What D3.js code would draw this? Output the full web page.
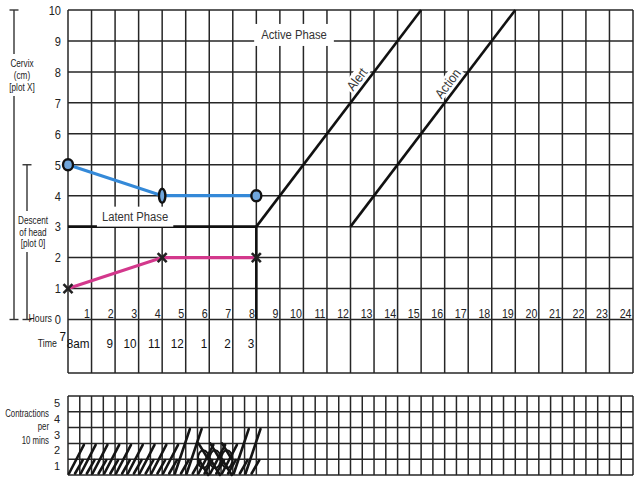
<!DOCTYPE html>
<html><head><meta charset="utf-8">
<script src="https://cdn.jsdelivr.net/npm/d3@7"></script>
<style>body{margin:0;background:#fff}svg{display:block}</style></head>
<body>
<script>
// ---- data ----
const hourTicks = d3.range(0, 25);              // hours 0..24
const cervixTicks = d3.range(0, 11);            // 0..10 cm
const hourLabels = d3.range(1, 25);             // labels 1..24
const timeLabels = ["7", "8am", "9", "10", "11", "12", "1", "2", "3"];
const obsHours = [0, 4, 8];
const cervixCm = [5, 4, 4];
const descentHead = [1, 2, 2];
const alertLine = [[8, 3], [15, 10]];
const actionLine = [[12, 3], [19, 10]];
const contractionTicks = [1, 2, 3, 4, 5];
const contractionsPer10 = [2, 2, 2, 2, 2, 2, 2, 2, 2, 3, 3, 2, 2, 2, 3, 3];
const contractionKind = ["m","m","m","m","m","m","m","m","m","m","m","s","s","s","m","m"];

// ---- layout ----
const W = 638, H = 479;
const SANS = "'Liberation Sans',Arial,sans-serif";
const INK = "#262626";
const BLUE = "#3489d8", PINK = "#d3388c";

const x = d3.scaleLinear().domain([0, 24]).range([68, 633]);
const y = d3.scaleLinear().domain([0, 10]).range([319.5, 10]);
const timeBottom = 373;
const yc = d3.scaleLinear().domain([0, 5]).range([475, 396]);
const halfCols = d3.range(0, 49).map(i => i / 2);

const svg = d3.select("body").append("svg").attr("width", W).attr("height", H);
svg.append("rect").attr("width", W).attr("height", H).attr("fill", "#fff");

// narrow the glyphs of a text selection horizontally
function condense(sel, k) {
  sel.each(function () {
    const L = this.getComputedTextLength();
    if (L > 0) d3.select(this).attr("textLength", L * k).attr("lengthAdjust", "spacingAndGlyphs");
  });
}

// ---- main grid ----
const g = svg.append("g").attr("stroke", INK).attr("stroke-width", 1.5).attr("fill", "none");
g.selectAll("line.v").data(hourTicks).join("line").attr("class", "v")
  .attr("x1", d => x(d)).attr("x2", d => x(d)).attr("y1", y(10)).attr("y2", timeBottom);
g.selectAll("line.h").data(cervixTicks).join("line").attr("class", "h")
  .attr("x1", x(0)).attr("x2", x(24)).attr("y1", d => y(d)).attr("y2", d => y(d));
g.append("line").attr("x1", x(0)).attr("x2", x(24)).attr("y1", timeBottom).attr("y2", timeBottom);

// latent phase box (thick)
svg.append("path").attr("fill", "none").attr("stroke", "#111").attr("stroke-width", 2.6)
  .attr("d", `M${x(0)},${y(3)}H${x(8)}V${y(0)}`);

// alert / action lines
const lineGen = d3.line().x(d => x(d[0])).y(d => y(d[1]));
svg.append("path").datum(alertLine).attr("d", lineGen).attr("stroke", "#111").attr("stroke-width", 2.6).attr("fill", "none");
svg.append("path").datum(actionLine).attr("d", lineGen).attr("stroke", "#111").attr("stroke-width", 2.6).attr("fill", "none");

// phase labels with white backing
function boxedLabel(cx, baseline, text, size, padX, padY) {
  const t = svg.append("text").attr("x", cx).attr("y", baseline).attr("text-anchor", "middle")
    .attr("font-family", SANS).attr("font-size", size).attr("fill", "#333").text(text);
  condense(t, 0.9);
  const bb = t.node().getBBox();
  svg.insert("rect", () => t.node()).attr("x", bb.x - padX).attr("y", bb.y - padY)
    .attr("width", bb.width + 2 * padX).attr("height", bb.height + 2 * padY).attr("fill", "#fff");
}
boxedLabel(x(9.6), y(9) - 2, "Active Phase", 12.5, 7, 4);
boxedLabel(x(2.85), y(3) - 6, "Latent Phase", 12.5, 5, 3);

function slopedLabel(seg, frac, text) {
  const px = x(seg[0][0] + (seg[1][0] - seg[0][0]) * frac);
  const py = y(seg[0][1] + (seg[1][1] - seg[0][1]) * frac);
  const ang = Math.atan2(y(seg[1][1]) - y(seg[0][1]), x(seg[1][0]) - x(seg[0][0])) * 180 / Math.PI;
  const gg = svg.append("g").attr("transform", `translate(${px},${py}) rotate(${ang})`);
  const t = gg.append("text").attr("x", 0).attr("y", -4.5).attr("text-anchor", "middle")
    .attr("font-family", SANS).attr("font-size", 13.5).attr("fill", "#333").text(text);
  condense(t, 0.88);
  const bb = t.node().getBBox();
  gg.insert("rect", () => t.node()).attr("x", bb.x - 2).attr("y", bb.y).attr("width", bb.width + 4)
    .attr("height", bb.height - 1.5).attr("fill", "#fff");
}
slopedLabel(alertLine, 0.655, "Alert");
slopedLabel(actionLine, 0.635, "Action");

// ---- axis labels ----
const yAxis = svg.append("g").attr("transform", `translate(${x(0) - 7},0)`)
  .call(d3.axisLeft(y).tickValues(cervixTicks).tickSize(0).tickPadding(0).tickFormat(d3.format("d")));
yAxis.select(".domain").remove();
yAxis.selectAll("text").attr("font-family", SANS).attr("font-size", 13.5).attr("fill", "#222");
condense(yAxis.selectAll("text"), 0.82);

const hoursT = svg.append("text").attr("x", 52).attr("y", y(0) + 2).attr("text-anchor", "end")
  .attr("font-family", SANS).attr("font-size", 11).attr("fill", "#222").text("Hours");
condense(hoursT, 0.8);

const hl = svg.append("g").selectAll("text").data(hourLabels).join("text")
  .attr("x", d => x(d) - 1.5).attr("y", y(0) - 1.5).attr("text-anchor", "end")
  .attr("font-family", SANS).attr("font-size", 13).attr("fill", "#222").text(d => d);
condense(hl, 0.82);

const timeT = svg.append("text").attr("x", 57).attr("y", 347).attr("text-anchor", "end")
  .attr("font-family", SANS).attr("font-size", 11).attr("fill", "#222").text("Time");
condense(timeT, 0.8);
const tl = svg.append("g").selectAll("text").data(timeLabels).join("text")
  .attr("x", (d, i) => x(i) - 2).attr("y", (d, i) => i === 0 ? 341 : 348).attr("text-anchor", "end")
  .attr("font-family", SANS).attr("font-size", 13).attr("fill", "#111").text(d => d);
condense(tl, 0.9);

// left brackets
const br = svg.append("g").attr("stroke", "#333").attr("stroke-width", 1.4);
br.append("line").attr("x1", 14).attr("x2", 14).attr("y1", y(10)).attr("y2", y(0));
br.append("line").attr("x1", 9.5).attr("x2", 18.5).attr("y1", y(10)).attr("y2", y(10));
br.append("line").attr("x1", 9.5).attr("x2", 18.5).attr("y1", y(0)).attr("y2", y(0));
br.append("line").attr("x1", 27).attr("x2", 27).attr("y1", y(5)).attr("y2", y(0));
br.append("line").attr("x1", 22.5).attr("x2", 31.5).attr("y1", y(5)).attr("y2", y(5));
br.append("line").attr("x1", 22.5).attr("x2", 31.5).attr("y1", y(0)).attr("y2", y(0));

function stackLabel(cx, baselines, lines) {
  const gg = svg.append("g");
  const t = gg.append("text").attr("text-anchor", "middle").attr("font-family", SANS)
    .attr("font-size", 10.5).attr("fill", "#222");
  lines.forEach((s, i) => t.append("tspan").attr("x", cx).attr("y", baselines[i]).text(s));
  condense(t.selectAll("tspan"), 0.78);
  const bb = t.node().getBBox();
  gg.insert("rect", () => t.node()).attr("x", bb.x - 1).attr("y", bb.y - 3).attr("width", bb.width + 2)
    .attr("height", bb.height + 6).attr("fill", "#fff");
}
stackLabel(22, [67, 79, 91], ["Cervix", "(cm)", "[plot X]"]);
stackLabel(33, [224, 236, 247], ["Descent", "of head", "[plot 0]"]);

// ---- series ----
const pts = obsHours.map((h, i) => ({h, c: cervixCm[i], d: descentHead[i]}));
svg.append("path").datum(pts).attr("fill", "none").attr("stroke", BLUE).attr("stroke-width", 3.2)
  .attr("d", d3.line().x(d => x(d.h)).y(d => y(d.c)));
svg.append("path").datum(pts).attr("fill", "none").attr("stroke", PINK).attr("stroke-width", 3.2)
  .attr("d", d3.line().x(d => x(d.h)).y(d => y(d.d)));
svg.append("g").selectAll("ellipse").data(pts).join("ellipse")
  .attr("cx", d => x(d.h)).attr("cy", d => y(d.c)).attr("rx", (d, i) => i === 1 ? 3.2 : 5)
  .attr("ry", (d, i) => i === 1 ? 7 : 5.5)
  .attr("fill", "#6fa6dc").attr("stroke", "#111").attr("stroke-width", 2.4);
svg.append("g").selectAll("path").data(pts).join("path")
  .attr("d", d => { const cx = x(d.h), cy = y(d.d), s = 4.5;
    return `M${cx - s},${cy - s}L${cx + s},${cy + s}M${cx - s},${cy + s}L${cx + s},${cy - s}`; })
  .attr("stroke", "#222").attr("stroke-width", 2.6).attr("fill", "none");

// ---- contractions grid ----
const cg = svg.append("g").attr("stroke", INK).attr("stroke-width", 1.5);
cg.selectAll("line.v").data(halfCols).join("line").attr("class", "v")
  .attr("x1", d => x(d)).attr("x2", d => x(d)).attr("y1", yc(5)).attr("y2", yc(0));
cg.selectAll("line.h").data([0, ...contractionTicks]).join("line").attr("class", "h")
  .attr("x1", x(0)).attr("x2", x(24)).attr("y1", d => yc(d)).attr("y2", d => yc(d));

const ct = svg.append("g").selectAll("text").data(contractionTicks).join("text")
  .attr("x", 60).attr("y", d => (yc(d) + yc(d - 1)) / 2 + 3).attr("text-anchor", "end")
  .attr("font-family", SANS).attr("font-size", 11).attr("fill", "#222").text(d => d);
const cl = svg.append("text").attr("text-anchor", "end").attr("font-family", SANS)
  .attr("font-size", 10).attr("fill", "#222");
[["Contractions", 417], ["per", 430], ["10 mins", 444]].forEach(([s, b]) =>
  cl.append("tspan").attr("x", 49).attr("y", b).text(s));
condense(cl.selectAll("tspan"), 0.78);

const marks = svg.append("g").attr("stroke", "#151515").attr("stroke-width", 2.6).attr("fill", "none")
  .attr("stroke-linecap", "round");
contractionsPer10.forEach((v, i) => {
  const x0 = x(i / 2), x1 = x((i + 1) / 2), w = x1 - x0;
  // one long hatch stroke through the filled cells, and a short one in the lowest cell
  marks.append("line").attr("x1", x0 + 1).attr("y1", yc(0) - 1.5).attr("x2", x1 + w * 0.35).attr("y2", yc(v) + 1.5);
  marks.append("line").attr("x1", x0 + w * 0.6).attr("y1", yc(0) - 1.5)
    .attr("x2", x1 + w * 0.25).attr("y2", yc(1) + 1);
  if (contractionKind[i] === "s") {
    for (let r = 1; r <= v; r++) {
      marks.append("line").attr("x1", x0 + 1).attr("y1", yc(r)).attr("x2", x1 - 1).attr("y2", yc(r - 1));
    }
    marks.append("ellipse").attr("cx", (x0 + x1) / 2).attr("cy", yc(v / 2))
      .attr("rx", 5.5).attr("ry", 9).attr("stroke-width", 2);
  }
});
</script>
</body></html>
